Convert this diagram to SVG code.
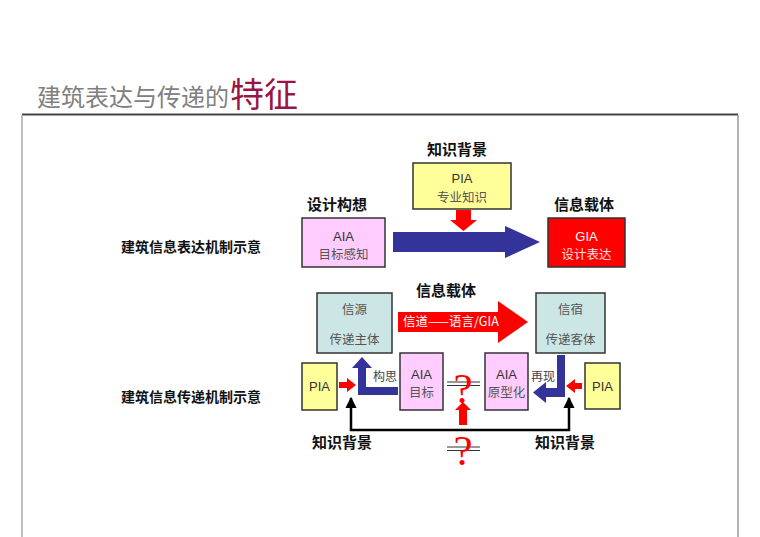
<svg xmlns="http://www.w3.org/2000/svg" width="760" height="537" viewBox="0 0 760 537">
<defs>
<style>
.h{font-family:"Noto Sans CJK SC","Liberation Sans",sans-serif;font-weight:bold;font-size:15px;fill:#111}
.side{font-family:"Noto Sans CJK SC","Liberation Sans",sans-serif;font-weight:bold;font-size:14px;fill:#111}
.t{font-family:"Liberation Sans","Noto Sans CJK SC",sans-serif;font-size:13px;fill:#333;text-anchor:middle;dominant-baseline:central}
.c{font-family:"Noto Sans CJK SC","Liberation Sans",sans-serif;font-size:12.5px;fill:#555;text-anchor:middle;dominant-baseline:central}
.box{stroke:#333;stroke-width:1.5}
.pink{fill:#ffccff}
.yel{fill:#ffff99}
.teal{fill:#cce5e5}
.q{font-family:"Liberation Serif",serif;font-size:43px;fill:#ff0000;text-anchor:middle}
.eq{stroke:#333;stroke-width:1}
</style>
<marker id="ah" viewBox="0 0 10 10" refX="9" refY="5" markerWidth="4.5" markerHeight="4.5" orient="auto-start-reverse" markerUnits="strokeWidth">
<path d="M0,0 L10,5 L0,10 z" fill="#000"/>
</marker>
</defs>
<rect width="760" height="537" fill="#fff"/>
<g id="title">
<text x="37" y="106" font-family="Noto Sans CJK SC,sans-serif" font-size="24" fill="#808080">建筑表达与传递的</text>
<text x="230" y="107" font-family="Noto Sans CJK SC,sans-serif" font-size="34" fill="#9b1446">特征</text>
<line x1="22" y1="114.5" x2="738" y2="114.5" stroke="#444" stroke-width="2"/>
<line x1="22" y1="115" x2="22" y2="537" stroke="#aaa" stroke-width="1.5"/>
<line x1="738" y1="115" x2="738" y2="537" stroke="#999" stroke-width="1.5"/>
</g>
<g id="labels">
<text class="side" x="121" y="252">建筑信息表达机制示意</text>
<text class="side" x="121" y="402">建筑信息传递机制示意</text>
<text class="h" x="427" y="155">知识背景</text>
<text class="h" x="307" y="210">设计构想</text>
<text class="h" x="554" y="210">信息载体</text>
<text class="h" x="416" y="296">信息载体</text>
<text class="h" x="312" y="448">知识背景</text>
<text class="h" x="535" y="448">知识背景</text>
</g>
<g id="node-pia-top">
<rect class="box yel" x="413" y="163" width="98" height="46"/>
<text class="t" x="462" y="178">PIA</text>
<text class="c" x="462" y="196">专业知识</text>
</g>
<g id="node-aia-top">
<rect class="box pink" x="302" y="218" width="83" height="49"/>
<text class="t" x="343.5" y="236">AIA</text>
<text class="c" x="343.5" y="253">目标感知</text>
</g>
<g id="node-gia">
<rect class="box" fill="#ff0000" x="548" y="218" width="77" height="49"/>
<text class="t" x="586.5" y="236" style="fill:#fff">GIA</text>
<text class="c" x="586.5" y="253" style="fill:#ffe0e0">设计表达</text>
</g>
<g id="node-source">
<rect class="box teal" x="317" y="293" width="75" height="60"/>
<text class="c" x="354.5" y="308">信源</text>
<text class="c" x="354.5" y="338">传递主体</text>
</g>
<g id="node-sink">
<rect class="box teal" x="536" y="293" width="69" height="60"/>
<text class="c" x="570.5" y="308">信宿</text>
<text class="c" x="570.5" y="338">传递客体</text>
</g>
<g id="node-pia-left">
<rect class="box yel" x="302" y="363" width="35" height="47"/>
<text class="t" x="319.5" y="386">PIA</text>
</g>
<g id="node-aia-goal">
<rect class="box pink" x="400" y="353" width="43" height="57"/>
<text class="t" x="421.5" y="374">AIA</text>
<text class="c" x="421.5" y="391">目标</text>
</g>
<g id="node-aia-proto">
<rect class="box pink" x="485" y="353" width="43" height="57"/>
<text class="t" x="506.5" y="374">AIA</text>
<text class="c" x="506.5" y="391">原型化</text>
</g>
<g id="node-pia-right">
<rect class="box yel" x="585" y="363" width="35" height="46"/>
<text class="t" x="602.5" y="386">PIA</text>
</g>
<g id="connectors">
<polygon points="393,232 505,232 505,226 540,242 505,258 505,252 393,252" fill="#333399"/>
<polygon points="456,210 471,210 471,220 477,220 463.5,231 450,220 456,220" fill="#ff0000"/>
<polygon points="398,312 498,312 498,301 528,322 498,343 498,332 398,332" fill="#ff0000"/>
<text x="403" y="326" font-family="Noto Sans CJK SC,sans-serif" font-size="12.5" fill="#fff">信道——语言/GIA</text>
<polygon points="362,357 372,368 366,368 366,387 398,387 398,395 358,395 358,368 352,368" fill="#333399"/>
<text x="373" y="381" font-family="Noto Sans CJK SC,sans-serif" font-size="12" fill="#444">构思</text>
<polygon points="557,355 565,355 565,397 546,397 546,403 533,392.5 546,382 546,388 557,388" fill="#333399"/>
<text x="531" y="381" font-family="Noto Sans CJK SC,sans-serif" font-size="12" fill="#444">再现</text>
<polygon points="339,382 347,382 347,378 356,385 347,392 347,388 339,388" fill="#ff0000"/>
<polygon points="582,383 575,383 575,379 566,386 575,393 575,389 582,389" fill="#ff0000"/>
<path d="M351,398 V430 H569 V398" fill="none" stroke="#000" stroke-width="2.5" marker-start="url(#ah)" marker-end="url(#ah)"/>
<polygon points="459,425 467,425 467,410 471,410 463,402 455,410 459,410" fill="#ff0000"/>
<line class="eq" x1="447" y1="382" x2="480" y2="382"/>
<line class="eq" x1="447" y1="385.5" x2="480" y2="385.5"/>
<text class="q" x="463" y="403">?</text>
<line class="eq" x1="447" y1="447" x2="480" y2="447"/>
<line class="eq" x1="447" y1="450.5" x2="480" y2="450.5"/>
<text class="q" x="463" y="465">?</text>
</g>
</svg>
